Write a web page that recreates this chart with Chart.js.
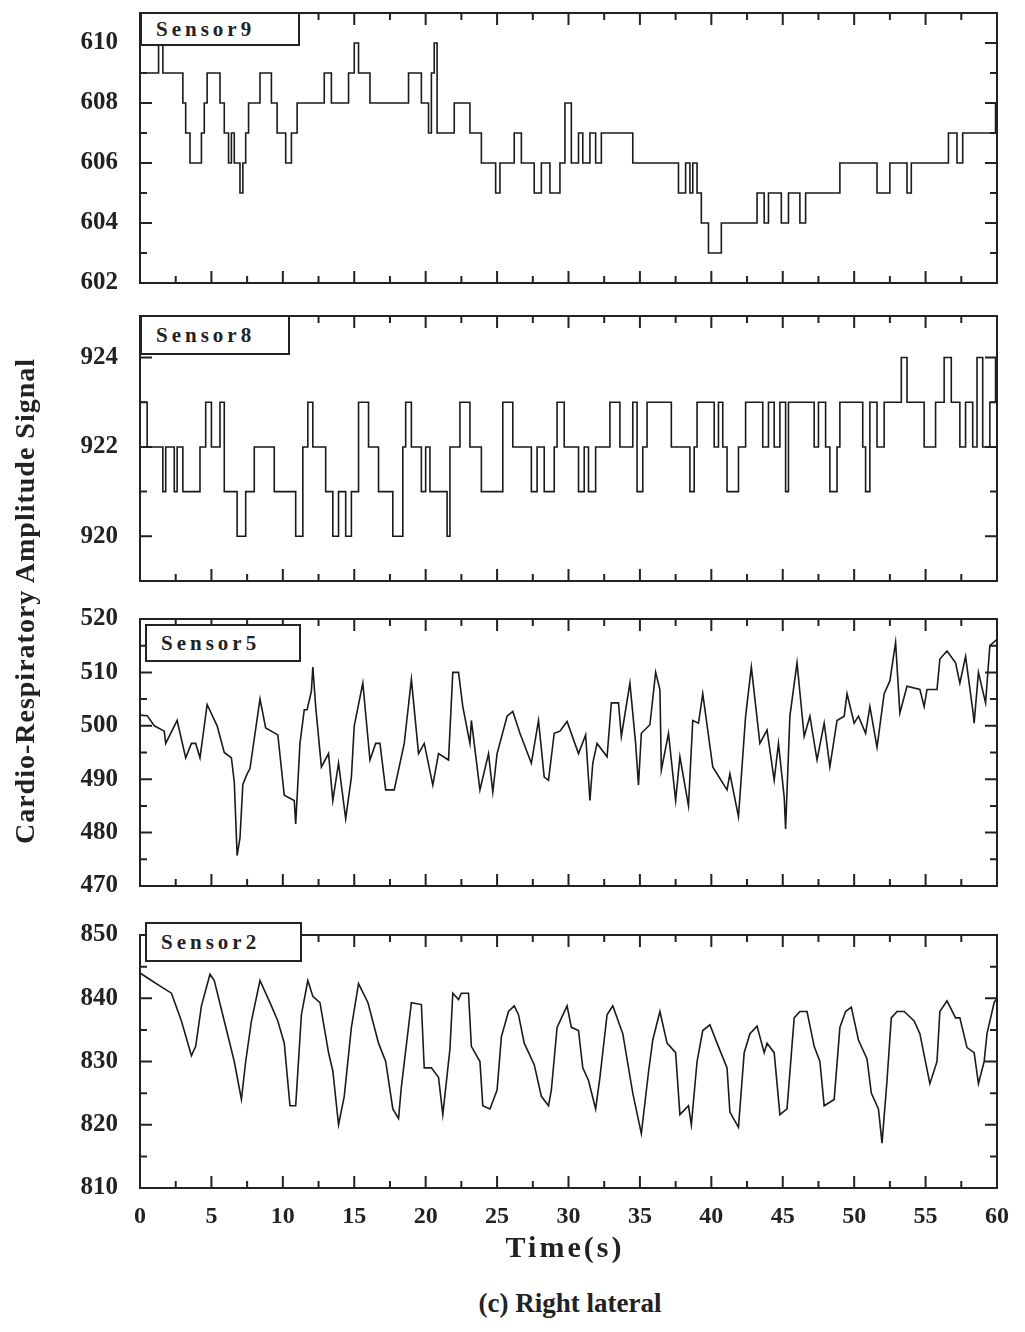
<!DOCTYPE html>
<html>
<head>
<meta charset="utf-8">
<script src="https://cdn.jsdelivr.net/npm/chart.js@4.4.1/dist/chart.umd.min.js"></script>
<style>
  body { margin: 0; background: #fff; width: 1025px; height: 1332px; position: relative; overflow: hidden; font-family: "Liberation Serif", serif; }
  canvas { position: absolute; left: 0; }
  .tag { position: absolute; border: 2px solid #222; background: #fff; font-weight: bold; font-size: 21px; letter-spacing: 4px; padding-left: 14px; box-sizing: border-box; line-height: 30px; color: #222; }
  .lbl { position: absolute; font-weight: bold; color: #222; white-space: nowrap; }
</style>
</head>
<body>
<canvas id="c9"></canvas>
<canvas id="c8"></canvas>
<canvas id="c5"></canvas>
<canvas id="c2"></canvas>
<div class="tag" style="left:140px;top:12px;width:160px;height:34px;">Sensor9</div>
<div class="tag" style="left:140px;top:315px;width:150px;height:40px;line-height:36px;">Sensor8</div>
<div class="tag" style="left:145px;top:624px;width:156px;height:38px;line-height:34px;">Sensor5</div>
<div class="tag" style="left:145px;top:922px;width:157px;height:40px;line-height:36px;">Sensor2</div>
<div class="lbl" style="left:-280px;top:585px;width:610px;text-align:center;font-size:28px;transform:rotate(-90deg);letter-spacing:1px;">Cardio-Respiratory Amplitude Signal</div>
<div class="lbl" style="left:465px;top:1230px;width:200px;text-align:center;font-size:30px;letter-spacing:3px;">Time(s)</div>
<div class="lbl" style="left:350px;top:1288px;width:440px;text-align:center;font-size:27px;">(c) Right lateral</div>
<script>
// tick labels
const xTicks = [0, 5, 10, 15, 20, 25, 30, 35, 40, 45, 50, 55, 60];
const ticks9 = [602, 604, 606, 608, 610];
const ticks8 = [920, 922, 924];
const ticks5 = [470, 480, 490, 500, 510, 520];
const ticks2 = [810, 820, 830, 840, 850];

// Sensor9 (change points, stepped)
const t9 = [0, 1.3, 1.6, 1.9, 3.0, 3.2, 3.5, 4.3, 4.5, 4.7, 5.6, 5.9, 6.2, 6.4, 6.6, 7.0, 7.2, 7.4, 7.6, 8.4, 9.2, 9.6, 10.2, 10.6, 11.0, 11.4, 12.9, 13.4, 14.6, 15.0, 15.3, 16.1, 18.8, 19.7, 20.2, 20.4, 20.6, 20.8, 22.0, 23.1, 23.4, 23.9, 24.9, 25.2, 26.2, 26.5, 26.7, 27.3, 27.6, 28.1, 28.7, 29.4, 29.75, 30.2, 30.7, 31.0, 31.5, 31.9, 32.3, 34.5, 37.7, 38.2, 38.5, 38.7, 39.0, 39.3, 39.8, 40.7, 43.2, 43.7, 44.0, 44.9, 45.4, 46.2, 46.6, 49.0, 51.6, 52.5, 53.7, 54.0, 56.6, 57.2, 57.6, 59.9];
const v9 = [609, 610, 609, 609, 608, 607, 606, 607, 608, 609, 608, 607, 606, 607, 606, 605, 606, 607, 608, 609, 608, 607, 606, 607, 608, 608, 609, 608, 609, 610, 609, 608, 609, 608, 607, 609, 610, 607, 608, 607, 607, 606, 605, 606, 607, 607, 606, 606, 605, 606, 605, 606, 608, 606, 607, 606, 607, 606, 607, 606, 605, 606, 605, 606, 605, 604, 603, 604, 605, 604, 605, 604, 605, 604, 605, 606, 605, 606, 605, 606, 607, 606, 607, 608];

// Sensor8 (change points, stepped)
const t8 = [0, 0.5, 1.0, 1.6, 1.8, 2.4, 2.6, 3.0, 4.2, 4.6, 5.0, 5.3, 5.6, 5.9, 6.5, 6.8, 7.4, 8.0, 9.4, 10.3, 10.9, 11.4, 11.75, 12.1, 13.0, 13.5, 13.9, 14.4, 14.8, 15.3, 16.0, 16.7, 17.7, 18.4, 18.6, 19.0, 19.7, 20.0, 20.3, 21.5, 21.7, 22.4, 23.1, 23.9, 25.0, 25.4, 26.1, 27.4, 27.8, 28.3, 29.0, 29.2, 29.7, 30.7, 31.1, 31.4, 31.9, 32.9, 33.6, 34.5, 34.8, 35.2, 35.5, 36.9, 37.2, 38.5, 38.8, 39.0, 40.2, 40.5, 40.8, 41.1, 41.9, 42.2, 42.4, 43.6, 44.0, 44.4, 44.8, 45.2, 45.4, 47.2, 47.5, 48.0, 48.3, 48.8, 49.0, 50.6, 50.8, 51.1, 51.6, 52.1, 53.3, 53.7, 54.9, 55.7, 56.3, 56.8, 57.4, 57.8, 58.3, 58.6, 59.0, 59.5, 59.9];
const v8 = [923, 922, 922, 921, 922, 921, 922, 921, 922, 923, 922, 922, 923, 921, 921, 920, 921, 922, 921, 921, 920, 922, 923, 922, 921, 920, 921, 920, 921, 923, 922, 921, 920, 922, 923, 922, 921, 922, 921, 920, 922, 923, 922, 921, 921, 923, 922, 921, 922, 921, 922, 923, 922, 921, 922, 921, 922, 923, 922, 923, 921, 922, 923, 923, 922, 921, 922, 923, 922, 923, 922, 921, 922, 922, 923, 922, 923, 922, 923, 921, 923, 922, 923, 922, 921, 922, 923, 922, 921, 923, 922, 923, 924, 923, 922, 923, 924, 923, 922, 923, 922, 924, 922, 923, 924];

// Sensor5 (points, straight lines)
const t5 = [0, 0.5, 1.0, 1.7, 1.8, 2.6, 3.2, 3.6, 3.9, 4.2, 4.7, 5.4, 5.9, 6.4, 6.6, 6.8, 7.0, 7.2, 7.5, 7.7, 8.4, 8.8, 9.65, 10.1, 10.8, 10.9, 11.2, 11.5, 11.7, 12.0, 12.1, 12.3, 12.7, 13.2, 13.5, 13.9, 14.4, 14.8, 15.0, 15.6, 16.1, 16.5, 16.8, 17.2, 17.8, 18.5, 19.0, 19.5, 19.9, 20.5, 20.9, 21.6, 21.9, 22.3, 22.6, 23.1, 23.2, 23.8, 24.4, 24.7, 25.0, 25.7, 26.1, 26.6, 27.4, 27.9, 28.3, 28.6, 29.0, 29.4, 29.9, 30.7, 31.2, 31.5, 31.7, 32.0, 32.7, 33.0, 33.5, 33.7, 34.3, 34.7, 34.9, 35.1, 35.7, 36.1, 36.4, 36.5, 37.0, 37.5, 37.8, 38.4, 38.7, 39.1, 39.4, 40.1, 41.1, 41.3, 41.9, 42.4, 42.8, 43.4, 43.9, 44.4, 44.7, 45.1, 45.2, 45.5, 46.0, 46.5, 46.9, 47.4, 47.9, 48.3, 48.8, 49.3, 49.5, 50.0, 50.3, 50.8, 51.1, 51.6, 52.1, 52.5, 52.9, 53.2, 53.7, 54.6, 54.9, 55.1, 55.8, 56.0, 56.5, 57.1, 57.4, 57.8, 58.3, 58.4, 58.7, 59.2, 59.5, 60];
const v5 = [502, 501.9, 500, 499, 496.7, 501, 494, 496.7, 496.7, 494, 504, 500, 495, 494, 489.5, 475.7, 479, 489, 491, 492, 505, 499.6, 498.3, 487, 486, 481.6, 496.7, 503, 503, 506.5, 511, 503.6, 492.3, 494.8, 486, 493, 482.6, 490.4, 500, 508, 493.6, 496.7, 496.7, 488, 488, 496.7, 508.7, 494.8, 496.7, 488.9, 494.8, 493.6, 510, 510, 503.6, 496.7, 501, 488, 494.8, 487.6, 494.8, 501.8, 502.7, 498.6, 493, 501, 490.4, 489.8, 498.6, 499, 500.8, 494.8, 498.3, 486, 493, 496.7, 494.2, 504.3, 504.3, 498, 508, 496.7, 488.9, 498.6, 500.2, 510, 506.8, 491.7, 498.6, 486, 494.2, 485, 501, 500.5, 506, 492.3, 488, 491, 483, 501.8, 511, 496.7, 499.2, 489.8, 496.7, 486.7, 480.7, 501.8, 511.8, 498, 501.8, 493.6, 500.5, 492.3, 501, 501.8, 506, 500.5, 501.8, 498.6, 503.6, 496, 506, 508.4, 515.6, 502.4, 507.4, 506.8, 503.6, 506.8, 506.8, 512.5, 514, 511.8, 508, 513, 503, 500.5, 510, 504.3, 515, 516.2];

// Sensor2 (points, straight lines)
const t2 = [0, 0.8, 1.5, 2.2, 2.9, 3.6, 3.9, 4.3, 4.9, 5.2, 5.9, 6.6, 7.1, 7.4, 7.8, 8.4, 9.1, 9.65, 10.1, 10.5, 10.9, 11.3, 11.75, 12.1, 12.6, 13.2, 13.5, 13.9, 14.3, 14.8, 15.3, 15.96, 16.7, 17.2, 17.7, 18.1, 18.3, 19.0, 19.7, 19.9, 20.4, 20.9, 21.2, 21.7, 21.9, 22.3, 22.5, 23.0, 23.2, 23.8, 24.0, 24.5, 25.0, 25.3, 25.8, 26.2, 26.5, 26.9, 27.6, 28.1, 28.6, 28.8, 29.2, 29.9, 30.2, 30.7, 31.0, 31.4, 31.9, 32.2, 32.7, 33.1, 33.8, 34.5, 35.1, 35.6, 35.9, 36.4, 36.9, 37.5, 37.8, 38.4, 38.6, 39.0, 39.4, 39.9, 40.4, 41.1, 41.3, 41.9, 42.3, 42.7, 43.2, 43.7, 43.9, 44.4, 44.8, 45.3, 45.8, 46.2, 46.7, 47.2, 47.6, 47.9, 48.6, 49.0, 49.4, 49.8, 50.3, 50.9, 51.2, 51.7, 51.95, 52.3, 52.6, 53.0, 53.5, 54.2, 54.6, 55.3, 55.8, 56.0, 56.5, 57.1, 57.4, 57.9, 58.4, 58.7, 59.1, 59.3, 59.8, 60];
const v2 = [844, 842.8, 841.8, 840.8, 836.4, 830.9, 832.4, 838.8, 843.8, 842.8, 836.4, 830, 824, 830, 836.4, 842.8, 839.3, 836.4, 832.9, 823, 823, 837.4, 842.8, 840.3, 839.3, 831.4, 828.5, 820, 824.5, 835.4, 842.3, 839.3, 832.9, 830, 822.5, 821, 826, 839.3, 839, 829, 829, 827.5, 821.6, 832, 840.8, 839.8, 840.8, 840.8, 832.4, 830, 823, 822.5, 825.5, 833.9, 837.9, 838.8, 837.4, 832.9, 829.5, 824.5, 823, 825.5, 835.4, 838.8, 835.4, 834.9, 829, 827, 822.5, 827.5, 837.4, 838.8, 834.4, 825, 818.6, 828.3, 833.4, 837.9, 832.9, 831.4, 821.6, 823, 820, 830, 834.9, 835.8, 832.9, 829, 822, 819.6, 831.4, 834.4, 835.6, 831.4, 832.9, 831.4, 821.6, 822.5, 836.9, 837.9, 837.9, 832.4, 830, 823, 824, 835.4, 837.9, 838.6, 833.4, 830.4, 825, 822.5, 817.1, 827, 836.9, 837.9, 837.9, 836.4, 834.4, 826.5, 830, 837.9, 839.6, 836.9, 836.9, 832.2, 831.4, 826.5, 830, 834.4, 839.3, 840];

const panels = [
  { id: 'c9', top: 12, bottom: 282, min: 602, max: 611, ticks: ticks9, minor: 1, t: t9, v: v9, stepped: 'before' },
  { id: 'c8', top: 315, bottom: 580, min: 919, max: 924.93, ticks: ticks8, minor: 1, t: t8, v: v8, stepped: 'before' },
  { id: 'c5', top: 618, bottom: 885, min: 470, max: 520, ticks: ticks5, minor: 5, t: t5, v: v5, stepped: false },
  { id: 'c2', top: 918, bottom: 1188, min: 810, max: 850, ticks: ticks2, minor: 5, t: t2, v: v2, stepped: false, showX: true }
];

// inward tick marks and frame
const frameTicks = {
  id: 'frameTicks',
  afterDraw(chart, args, opts) {
    const { ctx, chartArea: a, scales: { x, y } } = chart;
    ctx.save();
    ctx.strokeStyle = '#222';
    ctx.lineWidth = 2;
    ctx.strokeRect(a.left, a.top, a.right - a.left, a.bottom - a.top);
    for (let t = 0; t <= 60; t += 2.5) {
      const px = x.getPixelForValue(t);
      const len = t % 5 === 0 ? 12 : 7;
      ctx.beginPath();
      ctx.moveTo(px, a.bottom); ctx.lineTo(px, a.bottom - len);
      ctx.moveTo(px, a.top); ctx.lineTo(px, a.top + len);
      ctx.stroke();
    }
    for (let v = Math.ceil(y.min); v <= y.max; v += opts.minor) {
      const py = y.getPixelForValue(v);
      const len = opts.major.includes(v) ? 12 : 7;
      ctx.beginPath();
      ctx.moveTo(a.left, py); ctx.lineTo(a.left + len, py);
      ctx.moveTo(a.right, py); ctx.lineTo(a.right - len, py);
      ctx.stroke();
    }
    ctx.restore();
  }
};

panels.forEach(p => {
  const cv = document.getElementById(p.id);
  // hidden-x panels get extra label overflow space from the layout (~16px top, ~18px bottom)
  const above = p.showX ? 12 : 28;
  const below = p.showX ? 44 : 30;
  cv.style.top = (p.top - above) + 'px';
  cv.width = 1025;
  cv.height = p.bottom - p.top + above + below;
  new Chart(cv, {
    type: 'line',
    data: {
      datasets: [{
        data: p.t.map((t, i) => ({ x: t, y: p.v[i] })),
        borderColor: '#1a1a1a',
        borderWidth: 1.6,
        pointRadius: 0,
        tension: 0,
        stepped: p.stepped
      }]
    },
    options: {
      responsive: false,
      animation: false,
      layout: { padding: { top: 12, right: 28, bottom: p.showX ? 0 : 12, left: 0 } },
      plugins: { legend: { display: false }, tooltip: { enabled: false }, frameTicks: { minor: p.minor, major: p.ticks } },
      scales: {
        x: {
          type: 'linear', min: 0, max: 60,
          display: !!p.showX,
          afterBuildTicks: s => { s.ticks = xTicks.map(v => ({ value: v })); },
          afterFit: s => { s.height = p.showX ? 44 : 0; },
          grid: { display: false },
          border: { display: false },
          ticks: { color: '#222', font: { family: 'Liberation Serif', weight: 'bold', size: 24 }, padding: 6, maxRotation: 0 }
        },
        y: {
          min: p.min, max: p.max,
          afterBuildTicks: s => { s.ticks = p.ticks.map(v => ({ value: v })); },
          afterFit: s => { s.width = 140; },
          grid: { display: false },
          border: { display: false },
          ticks: { color: '#222', font: { family: 'Liberation Serif', weight: 'bold', size: 25 }, padding: 14 }
        }
      }
    },
    plugins: [frameTicks]
  });
});
</script>
</body>
</html>
